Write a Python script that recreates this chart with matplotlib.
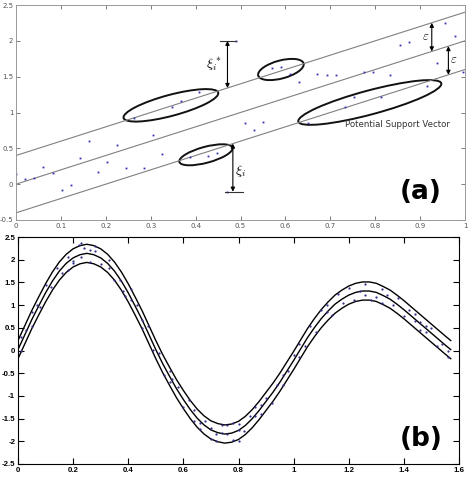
import matplotlib
matplotlib.use('Agg')
import matplotlib.pyplot as plt
from matplotlib.patches import Ellipse
from matplotlib.transforms import ScaledTranslation

plt.rcParams['axes.unicode_minus'] = False
plt.rcParams['mathtext.fontset'] = 'cm'

# ---- panel (a): linear SVR ----
line_x = [0, 1]
tube_offsets = [0.4, 0.0, -0.4]
slope = 2.0

a_x = [0.0, 0.02, 0.04, 0.061, 0.082, 0.102, 0.122, 0.143, 0.163, 0.183,
       0.203, 0.224, 0.245, 0.263, 0.285, 0.306, 0.326, 0.347, 0.367, 0.388,
       0.408, 0.428, 0.448, 0.469, 0.489, 0.51, 0.529, 0.549, 0.571, 0.59,
       0.61, 0.63, 0.651, 0.671, 0.692, 0.712, 0.733, 0.753, 0.774, 0.794,
       0.814, 0.834, 0.855, 0.875, 0.915, 0.937, 0.955, 0.978, 0.996]
a_y = [0.14, 0.07, 0.09, 0.24, 0.16, -0.08, -0.01, 0.36, 0.60, 0.17,
       0.31, 0.54, 0.23, 0.93, 0.23, 0.69, 0.42, 1.07, 1.16, 0.38,
       1.28, 0.40, 0.43, -0.11, 2.0, 0.85, 0.75, 0.87, 1.62, 1.63,
       1.54, 1.42, 0.86, 1.54, 1.52, 1.53, 1.08, 1.21, 1.56, 1.57,
       1.21, 1.53, 1.94, 1.98, 1.375, 1.69, 2.25, 2.07, 1.57]

a_xticks = [0, 0.1, 0.2, 0.3, 0.4, 0.5, 0.6, 0.7, 0.8, 0.9, 1]
a_xlabels = ['0', '0.1', '0.2', '0.3', '0.4', '0.5', '0.6', '0.7', '0.8', '0.9', '1']
a_yticks = [-0.5, 0, 0.5, 1, 1.5, 2, 2.5]
a_ylabels = ['-0.5', '0', '0.5', '1', '1.5', '2', '2.5']

# ---- panel (b): nonlinear SVR ----
curve_x = [0.0, 0.025, 0.05, 0.075, 0.10, 0.125, 0.15, 0.175, 0.20, 0.225,
           0.25, 0.275, 0.30, 0.325, 0.35, 0.375, 0.40, 0.425, 0.45, 0.475,
           0.50, 0.525, 0.55, 0.575, 0.60, 0.625, 0.65, 0.675, 0.70, 0.725,
           0.75, 0.775, 0.80, 0.825, 0.85, 0.875, 0.90, 0.925, 0.95, 0.975,
           1.00, 1.025, 1.05, 1.075, 1.10, 1.125, 1.15, 1.175, 1.20, 1.225,
           1.25, 1.275, 1.30, 1.325, 1.35, 1.375, 1.40, 1.425, 1.45, 1.475,
           1.50, 1.525, 1.55, 1.57]
curve_y = [0.02, 0.35, 0.68, 0.98, 1.27, 1.53, 1.75, 1.92, 2.04, 2.11,
           2.14, 2.11, 2.04, 1.92, 1.75, 1.53, 1.27, 0.98, 0.68, 0.35,
           0.02, -0.29, -0.57, -0.84, -1.08, -1.30, -1.49, -1.64, -1.75, -1.81,
           -1.84, -1.82, -1.76, -1.65, -1.50, -1.32, -1.12, -0.92, -0.70, -0.46,
           -0.22, 0.03, 0.28, 0.50, 0.70, 0.87, 1.02, 1.13, 1.22, 1.28,
           1.31, 1.31, 1.28, 1.21, 1.13, 1.02, 0.90, 0.77, 0.64, 0.51,
           0.38, 0.25, 0.12, 0.02]
eps_b = 0.2

b_x = [0.01, 0.01, 0.03, 0.05, 0.05, 0.07, 0.08, 0.10, 0.12, 0.14, 0.16,
       0.18, 0.18, 0.20, 0.20, 0.22, 0.23, 0.23, 0.24, 0.26, 0.26, 0.28,
       0.28, 0.30, 0.33, 0.33, 0.35, 0.37, 0.38, 0.39, 0.41, 0.41, 0.43,
       0.45, 0.45, 0.47, 0.49, 0.51, 0.53, 0.55, 0.55, 0.56, 0.58, 0.60,
       0.62, 0.64, 0.64, 0.66, 0.66, 0.68, 0.70, 0.70, 0.72, 0.72, 0.74,
       0.74, 0.76, 0.76, 0.78, 0.78, 0.80, 0.80, 0.80, 0.82, 0.84, 0.86,
       0.86, 0.88, 0.88, 0.90, 0.92, 0.94, 0.96, 0.96, 0.98, 1.00, 1.02,
       1.02, 1.04, 1.06, 1.08, 1.10, 1.12, 1.12, 1.14, 1.16, 1.18, 1.20,
       1.22, 1.24, 1.26, 1.26, 1.28, 1.30, 1.32, 1.32, 1.34, 1.36, 1.38,
       1.40, 1.42, 1.44, 1.44, 1.46, 1.46, 1.48, 1.48, 1.50, 1.52, 1.54,
       1.56, 1.56]
b_y = [0.30, 0.0, 0.45, 0.55, 0.85, 1.00, 0.95, 1.45, 1.40, 1.82, 1.70,
       2.05, 1.78, 1.97, 1.92, 2.33, 2.36, 2.05, 2.25, 2.22, 1.96, 2.19,
       2.30, 1.90, 1.82, 2.00, 1.55, 1.56, 1.30, 1.20, 1.12, 1.35, 1.00,
       0.68, 0.50, 0.55, 0.02, -0.05, -0.55, -0.45, -0.70, -0.62, -0.80, -1.25,
       -1.10, -1.55, -1.30, -1.60, -1.73, -1.55, -1.70, -1.95, -1.85, -2.00, -1.65,
       -1.82, -1.65, -1.84, -1.60, -1.98, -1.62, -2.00, -1.75, -1.78, -1.45, -1.45,
       -1.25, -1.40, -1.20, -1.05, -1.15, -0.75, -0.55, -0.75, -0.45, -0.10, 0.15,
       -0.15, 0.10, 0.55, 0.40, 0.90, 0.85, 1.00, 0.78, 1.25, 1.05, 1.38,
       1.12, 1.30, 1.47, 1.22, 1.12, 1.17, 1.35, 1.05, 1.23, 1.00, 1.15,
       0.75, 0.90, 0.65, 0.80, 0.45, 0.62, 0.55, 0.40, 0.50, 0.10, 0.15,
       -0.15, 0.0]

b_xticks = [0, 0.2, 0.4, 0.6, 0.8, 1, 1.2, 1.4, 1.6]
b_xlabels = ['0', '0.2', '0.4', '0.6', '0.8', '1', '1.2', '1.4', '1.6']
b_yticks = [-2.5, -2, -1.5, -1, -0.5, 0, 0.5, 1, 1.5, 2, 2.5]
b_ylabels = ['-2.5', '-2', '-1.5', '-1', '-0.5', '0', '0.5', '1', '1.5', '2', '2.5']

fig = plt.figure(figsize=(4.74, 4.84), dpi=100)
ax1 = fig.add_axes([16/474, 1 - 220/484, 449/474, 215/484])
ax2 = fig.add_axes([18/474, 1 - 464/484, 441/474, 227/484])

# panel (a)
for off in tube_offsets:
    ax1.plot(line_x, [slope * v + off for v in line_x], color='#808080', lw=0.8)
ax1.plot(a_x, a_y, 's', color='#3030b0', ms=1.3, mew=0)
ax1.set_xlim(0, 1)
ax1.set_ylim(-0.5, 2.5)
ax1.set_xticks(a_xticks)
ax1.set_xticklabels(a_xlabels)
ax1.set_yticks(a_yticks)
ax1.set_yticklabels(a_ylabels)
ax1.tick_params(direction='in', top=True, right=True, length=3, width=0.6,
                labelsize=5, labelcolor='#555555', color='#666666', pad=2)
for s in ax1.spines.values():
    s.set_color('#999999')
    s.set_linewidth(0.7)

ang = 15
ellipses = [((0.345, 1.10), 98, 21), ((0.59, 1.60), 47, 18),
            ((0.423, 0.41), 55, 16), ((0.788, 1.14), 148, 24)]
for (cx, cy), w, h in ellipses:
    tr = fig.dpi_scale_trans + ScaledTranslation(cx, cy, ax1.transData)
    e = Ellipse((0, 0), w / 100, h / 100, angle=ang, transform=tr,
                fill=False, ec='#111111', lw=1.4, clip_on=False)
    ax1.add_patch(e)

arrow = dict(arrowstyle='<|-|>', lw=0.8, color='black', shrinkA=0, shrinkB=0,
             mutation_scale=6)
# xi* (above the tube)
ax1.annotate('', xy=(0.471, 2.0), xytext=(0.471, 2 * 0.471 + 0.4), arrowprops=arrow)
ax1.plot([0.455, 0.49], [2.0, 2.0], color='#333333', lw=0.8)
ax1.text(0.44, 1.68, r'$\xi_i^*$', fontsize=10, ha='center', va='center')
# xi (below the tube)
ax1.annotate('', xy=(0.483, -0.105), xytext=(0.483, 2 * 0.483 - 0.4), arrowprops=arrow)
ax1.plot([0.466, 0.505], [-0.105, -0.105], color='#333333', lw=0.8)
ax1.text(0.50, 0.19, r'$\xi_i$', fontsize=10, ha='center', va='center')
# epsilon arrows
ax1.annotate('', xy=(0.926, 2 * 0.926 + 0.4), xytext=(0.926, 2 * 0.926), arrowprops=arrow)
ax1.text(0.913, 2.06, r'$\varepsilon$', fontsize=9, ha='center', va='center')
ax1.annotate('', xy=(0.963, 2 * 0.963), xytext=(0.963, 2 * 0.963 - 0.4), arrowprops=arrow)
ax1.text(0.975, 1.74, r'$\varepsilon$', fontsize=9, ha='center', va='center')

ax1.text(0.733, 0.83, 'Potential Support Vector', fontsize=6.2, color='#333333',
         ha='left', va='center')
ax1.text(0.902, -0.11, '(a)', fontsize=19, fontweight='bold', ha='center', va='center')

# panel (b)
ax2.plot(curve_x, [v + eps_b for v in curve_y], color='black', lw=1.0)
ax2.plot(curve_x, curve_y, color='black', lw=1.0)
ax2.plot(curve_x, [v - eps_b for v in curve_y], color='black', lw=1.0)
ax2.plot(b_x, b_y, 'o', color='#303088', ms=1.6, mew=0)
ax2.set_xlim(0, 1.6)
ax2.set_ylim(-2.5, 2.5)
ax2.set_xticks(b_xticks)
ax2.set_xticklabels(b_xlabels)
ax2.set_yticks(b_yticks)
ax2.set_yticklabels(b_ylabels)
ax2.tick_params(direction='in', top=True, right=True, length=4, width=0.8,
                labelsize=5.7, pad=2)
for lab in ax2.get_xticklabels() + ax2.get_yticklabels():
    lab.set_fontweight('bold')
    lab.set_family('Liberation Sans')
ax2.text(1.464, -1.96, '(b)', fontsize=19, fontweight='bold', ha='center', va='center')

plt.savefig('out.png', dpi=100)
